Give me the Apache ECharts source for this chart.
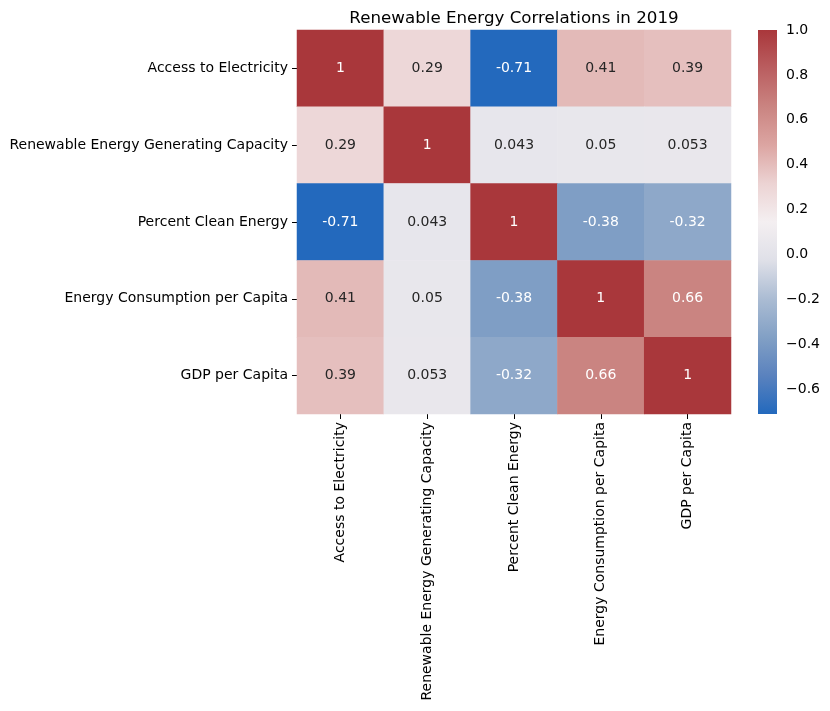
<!DOCTYPE html>
<html>
<head>
<meta charset="utf-8">
<script src="https://cdn.jsdelivr.net/npm/echarts@6/dist/echarts.min.js"></script>
<style>
html,body{margin:0;padding:0;background:#fff;}
#chart{width:830px;height:711px;}
</style>
</head>
<body>
<div id="chart"></div>
<script>
const titleText = 'Renewable Energy Correlations in 2019';
const categories = [
  'Access to Electricity',
  'Renewable Energy Generating Capacity',
  'Percent Clean Energy',
  'Energy Consumption per Capita',
  'GDP per Capita'
];
const rowAccess      = [1, 0.29, -0.71, 0.41, 0.39];
const rowRenewable   = [0.29, 1, 0.043, 0.05, 0.053];
const rowClean       = [-0.71, 0.043, 1, -0.38, -0.32];
const rowConsumption = [0.41, 0.05, -0.38, 1, 0.66];
const rowGDP         = [0.39, 0.053, -0.32, 0.66, 1];
const matrix = [rowAccess, rowRenewable, rowClean, rowConsumption, rowGDP];

const colorbarTicks = [-0.6, -0.4, -0.2, 0, 0.2, 0.4, 0.6, 0.8, 1.0];
const vmin = -0.71, vmax = 1;
// vlag-like colormap, evenly spaced stops
const cmapColors = [
  '#2369bd', '#5a82be', '#82a0c5', '#abbcd3', '#dfe0e8',
  '#f4eff1', '#ecd3d3', '#dca5a2', '#ca8481', '#ba5e60', '#a9373b'
];

const heatData = [];
matrix.forEach((row, r) => {
  row.forEach((v, c) => {
    const t = (v - vmin) / (vmax - vmin);
    const dark = t < 0.3 || t > 0.75;
    heatData.push({
      value: [c, r, v],
      label: { color: dark ? '#ffffff' : '#262626' }
    });
  });
});

const chart = echarts.init(document.getElementById('chart'));
const FONT = 'DejaVu Sans';
const fs = 14;

chart.setOption({
  animation: false,
  backgroundColor: '#ffffff',
  title: {
    text: titleText,
    left: 509,
    top: 5,
    textAlign: 'center',
    textStyle: { fontFamily: FONT, fontSize: 16.7, fontWeight: 'normal', color: '#000' }
  },
  grid: [
    { left: 297, top: 30, width: 434, height: 384 },
    { left: 758, top: 30, width: 19, height: 384 }
  ],
  xAxis: [
    {
      type: 'category', gridIndex: 0, data: categories,
      axisLine: { show: false },
      axisTick: { show: true, alignWithLabel: true, length: 5, lineStyle: { color: '#000' } },
      axisLabel: { rotate: 90, margin: 8, fontFamily: FONT, fontSize: fs, color: '#000', interval: 0 },
      splitLine: { show: false }
    },
    {
      type: 'value', gridIndex: 1, min: 0, max: 1, show: false
    }
  ],
  yAxis: [
    {
      type: 'category', gridIndex: 0, data: categories, inverse: true,
      axisLine: { show: false },
      axisTick: { show: true, alignWithLabel: true, length: 5, lineStyle: { color: '#000' } },
      axisLabel: { margin: 9, fontFamily: FONT, fontSize: fs, color: '#000', interval: 0 },
      splitLine: { show: false }
    },
    {
      type: 'value', gridIndex: 1, position: 'right', min: vmin, max: vmax,
      axisLine: { show: false },
      axisTick: { show: true, length: 5, customValues: colorbarTicks, lineStyle: { color: '#000' } },
      axisLabel: {
        customValues: colorbarTicks, margin: 9, fontFamily: FONT, fontSize: fs, color: '#000',
        formatter: v => (v < 0 ? '\u2212' : '') + Math.abs(v).toFixed(1)
      },
      splitLine: { show: false }
    }
  ],
  visualMap: {
    show: false, type: 'continuous', min: vmin, max: vmax, seriesIndex: 0, dimension: 2,
    inRange: { color: cmapColors }
  },
  series: [
    {
      type: 'heatmap', xAxisIndex: 0, yAxisIndex: 0, data: heatData,
      label: {
        show: true, fontFamily: FONT, fontSize: fs,
        formatter: p => String(p.value[2])
      },
      itemStyle: { borderWidth: 0 },
      emphasis: { disabled: true }
    },
    {
      type: 'custom', xAxisIndex: 1, yAxisIndex: 1, silent: true,
      data: [[0, vmin, 1, vmax]],
      renderItem: (params, api) => {
        const p0 = api.coord([api.value(0), api.value(1)]);
        const p1 = api.coord([api.value(2), api.value(3)]);
        const stops = cmapColors.map((c, i) => ({ offset: i / (cmapColors.length - 1), color: c }));
        return {
          type: 'rect',
          shape: { x: p0[0], y: p1[1], width: p1[0] - p0[0], height: p0[1] - p1[1] },
          style: { fill: new echarts.graphic.LinearGradient(0, 1, 0, 0, stops) }
        };
      }
    }
  ]
});
</script>
</body>
</html>
